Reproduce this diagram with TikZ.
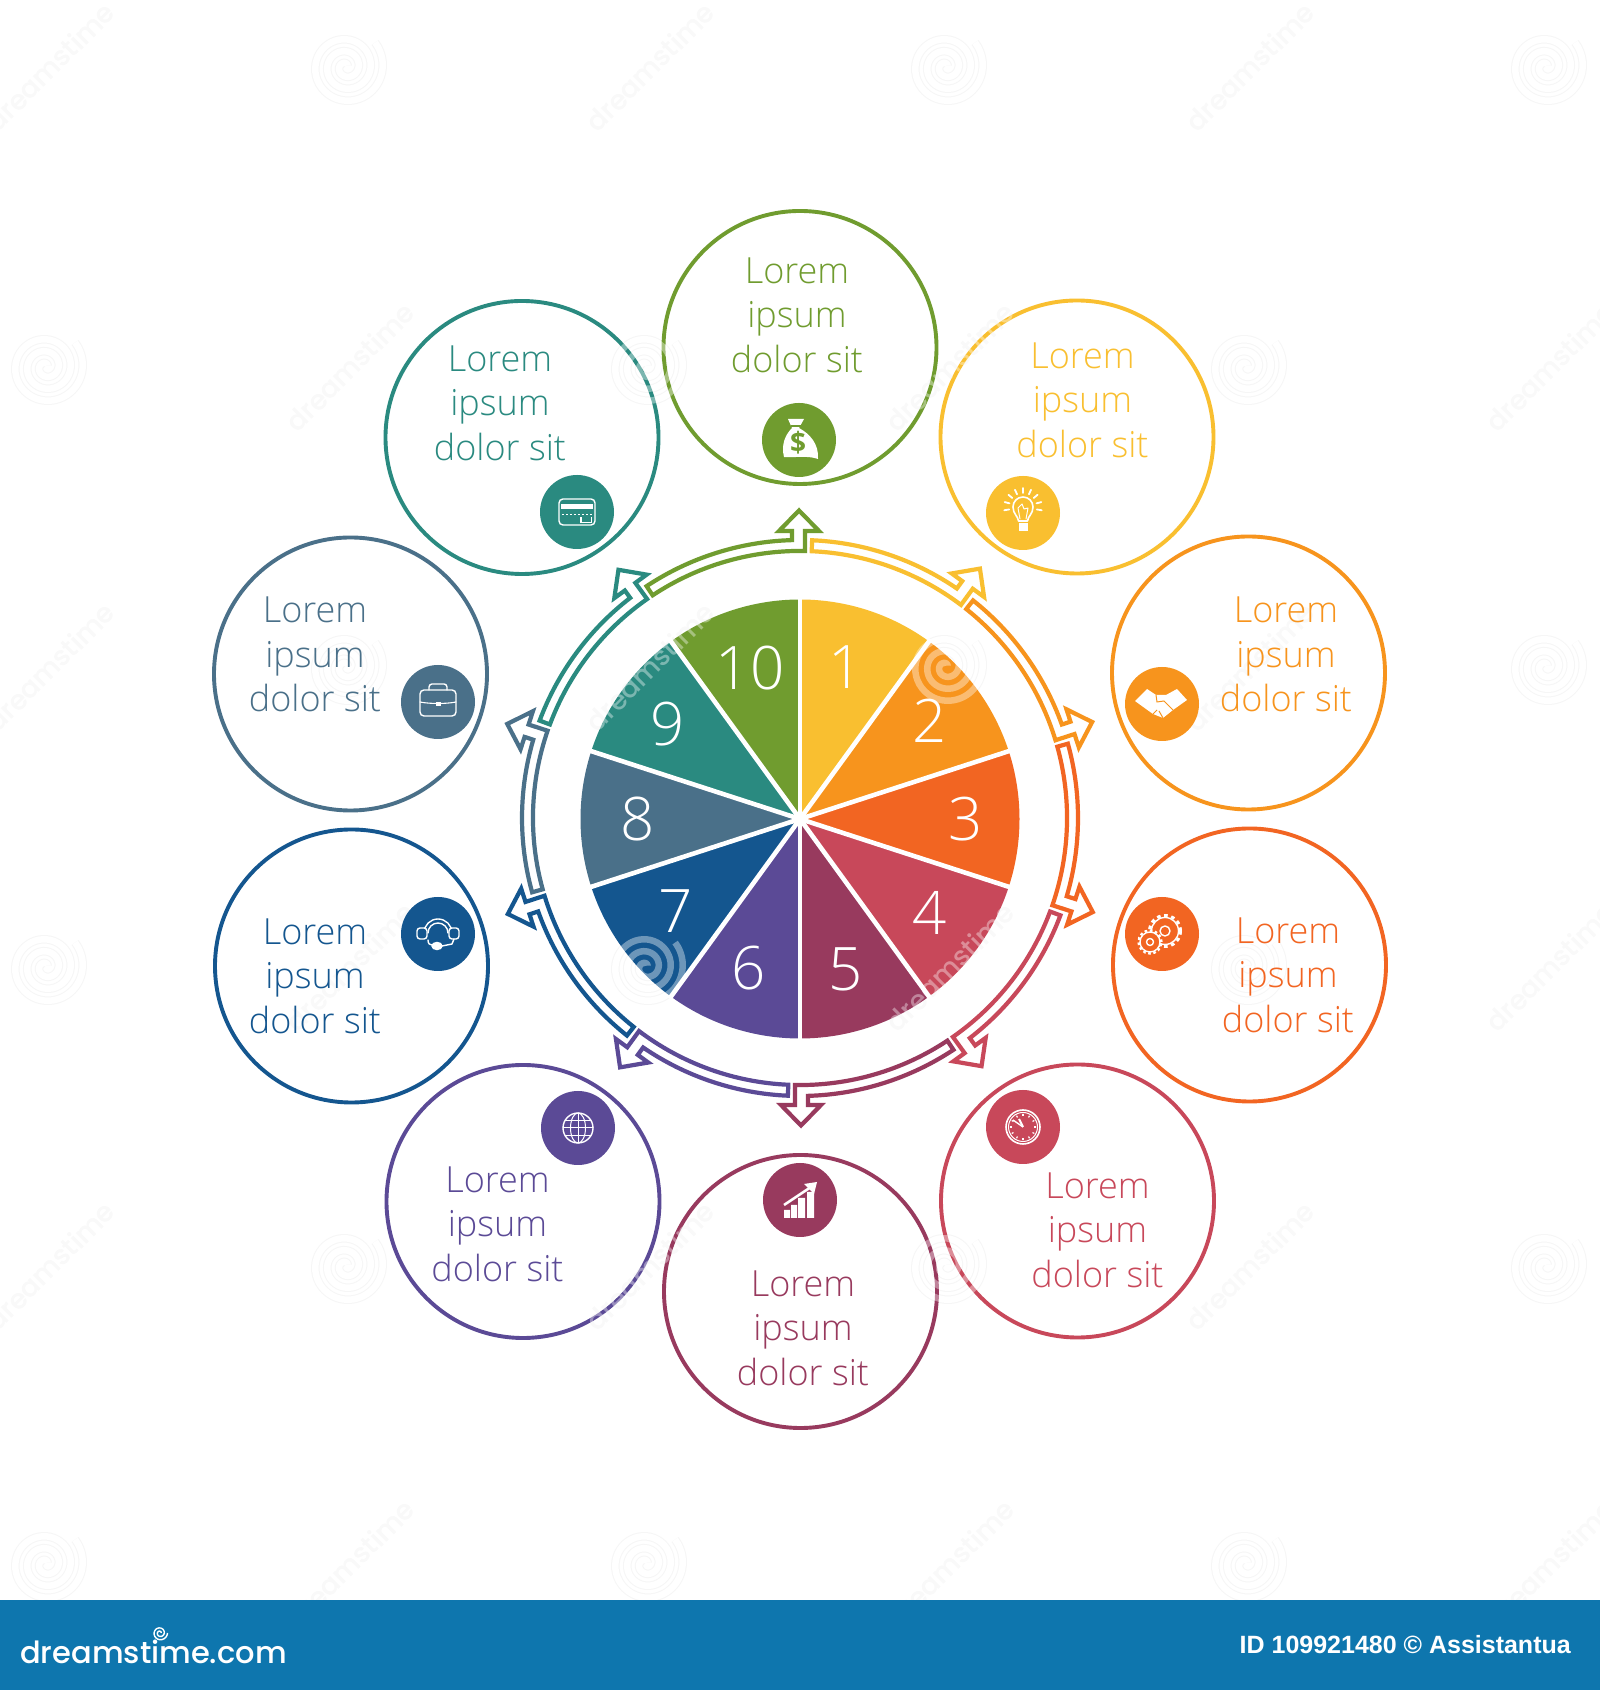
\documentclass[tikz,border=0pt]{standalone}
\usepackage{fontspec}
\setmainfont{Open Sans}[UprightFont=* Light,BoldFont=* Bold]
\newfontfamily\footfont{Liberation Sans}
\newfontfamily\logofont{Poppins}[UprightFont=* Medium]
\usetikzlibrary{calc}
\definecolor{cA}{HTML}{F9BF30}
\definecolor{cB}{HTML}{F7941D}
\definecolor{cC}{HTML}{F26522}
\definecolor{cD}{HTML}{C8485A}
\definecolor{cE}{HTML}{983A5E}
\definecolor{cF}{HTML}{5B4A96}
\definecolor{cG}{HTML}{14568F}
\definecolor{cH}{HTML}{4A7089}
\definecolor{cI}{HTML}{2A8A80}
\definecolor{cJ}{HTML}{709C2F}
\definecolor{footbar}{HTML}{0E76AE}
\definecolor{wmgrey}{HTML}{F6F6F6}
\tikzset{
  x=1pt,y=1pt,
  ringc/.style={circle,draw=#1,line width=3.9pt,minimum size=273pt,inner sep=0pt,outer sep=0pt},
  disc/.style={circle,fill=#1,minimum size=74pt,inner sep=0pt,outer sep=0pt},
  lorem/.style={text=#1,align=center,font=\fontsize{36}{44.5}\selectfont,inner sep=0pt},
  piedigit/.style={text=white,font=\fontsize{60}{60}\selectfont,inner sep=0pt},
  band/.style={draw=#1,fill=white,line width=4.2pt,line join=miter,miter limit=10},
  ic/.style={draw=white,line width=1.4pt,line cap=round,line join=round},
  wmtext/.style={rotate=45,font=\logofont\fontsize{27}{27}\selectfont,inner sep=0pt}
}
\newcommand\wmspiral[2]{plot[domain=0:1080,samples=140,smooth] ({#1+(2+\x/30)*cos(\x+40)},{#2+(2+\x/30)*sin(\x+40)})}
% one arrow band: colour, clock angle of its tip
\newcommand\arrowband[2]{%
  \begin{scope}[shift={(ring)},rotate=-#2]
    \draw[band=#1] (123.5:278) arc[start angle=123.5,end angle=91.65,radius=278]
      -- (-8,287) -- (-21,287) -- (-1,307.5) -- (19,287) -- (5,287) -- (5,267)
      arc[start angle=88.93,end angle=123.5,radius=267] -- cycle;
  \end{scope}}
\begin{document}
\begin{tikzpicture}
\useasboundingbox (0,0) rectangle (1600,1690);
\fill[white] (0,0) rectangle (1600,1690);
% watermark, under everything
\foreach \wy in {1623,1023,424}{\foreach \wx in {346,946,1546}{
  \draw[wmgrey,line width=8.5pt] \wmspiral{\wx}{\wy};
  \draw[white,line width=6.5pt] \wmspiral{\wx}{\wy};
  \node[wmtext,text=wmgrey] at (\wx-296,\wy) {dreamstime};}}
\foreach \wy in {1323,723,126}{\foreach \wx in {46,646,1246}{
  \draw[wmgrey,line width=8.5pt] \wmspiral{\wx}{\wy};
  \draw[white,line width=6.5pt] \wmspiral{\wx}{\wy};
  \node[wmtext,text=wmgrey] at (\wx+304,\wy) {dreamstime};}}
\coordinate (pie) at (800,871);
\coordinate (ring) at (800,872);
% pie
\foreach \k/\col [evaluate=\k as \sa using {90-36*(\k-1)},evaluate=\k as \ea using {90-36*\k}] in {1/cA,2/cB,3/cC,4/cD,5/cE,6/cF,7/cG,8/cH,9/cI,10/cJ}{
  \fill[\col] (pie) -- ($(pie)+(\sa:219.5)$) arc[start angle=\sa,end angle=\ea,radius=219.5] -- cycle;}
\foreach \k in {0,...,9}{\draw[white,line width=4.6pt] (pie) -- ($(pie)+({90-36*\k}:222)$);}
\fill[white] (pie) circle (5);
% arrow ring
\arrowband{cA}{36}
\arrowband{cB}{72}
\arrowband{cC}{108}
\arrowband{cD}{144}
\arrowband{cE}{180}
\arrowband{cF}{216}
\arrowband{cG}{252}
\arrowband{cH}{288}
\arrowband{cI}{324}
\arrowband{cJ}{0}
% outer circles
\node[ringc=cJ] (c10) at (800,1342.5) {};
\node[ringc=cA] (c1) at (1077,1253) {};
\node[ringc=cB] (c2) at (1248.5,1017) {};
\node[ringc=cC] (c3) at (1249.5,725) {};
\node[ringc=cD] (c4) at (1077.5,489) {};
\node[ringc=cE] (c5) at (800.5,398.5) {};
\node[ringc=cF] (c6) at (523,488.5) {};
\node[ringc=cG] (c7) at (351.5,724) {};
\node[ringc=cH] (c8) at (350.5,1016) {};
\node[ringc=cI] (c9) at (522,1252.5) {};
% watermark over the coloured shapes
\begin{scope}[opacity=.38]
\foreach \wy in {1623,1023,424}{\foreach \wx in {346,946,1546}{
  \draw[white,line width=6.5pt] \wmspiral{\wx}{\wy};
  \node[wmtext,text=white] at (\wx-296,\wy) {dreamstime};}}
\foreach \wy in {1323,723,126}{\foreach \wx in {46,646,1246}{
  \draw[white,line width=6.5pt] \wmspiral{\wx}{\wy};
  \node[wmtext,text=white] at (\wx+304,\wy) {dreamstime};}}
\end{scope}
% pie numbers
\node[piedigit] (n1) at (846,1023) {1};
\node[piedigit] (n2) at (930,969) {2};
\node[piedigit] (n3) at (966,871) {3};
\node[piedigit] (n4) at (930,777) {4};
\node[piedigit] (n5) at (846,721) {5};
\node[piedigit] (n6) at (749,722) {6};
\node[piedigit] (n7) at (676,779) {7};
\node[piedigit] (n8) at (638,871) {8};
\node[piedigit] (n9) at (668,966) {9};
\node[piedigit] (n10) at (750,1022) {10};
% texts
\node[lorem=cJ] (t10) at (797,1375) {Lorem\\ipsum\\dolor sit};
\node[lorem=cA] (t1) at (1082.5,1290) {Lorem\\ipsum\\dolor sit};
\node[lorem=cB] (t2) at (1286,1035.5) {Lorem\\ipsum\\dolor sit};
\node[lorem=cC] (t3) at (1288,715) {Lorem\\ipsum\\dolor sit};
\node[lorem=cD] (t4) at (1097.5,460) {Lorem\\ipsum\\dolor sit};
\node[lorem=cE] (t5) at (803,362) {Lorem\\ipsum\\dolor sit};
\node[lorem=cF] (t6) at (497.5,466) {Lorem\\ipsum\\dolor sit};
\node[lorem=cG] (t7) at (315,714) {Lorem\\ipsum\\dolor sit};
\node[lorem=cH] (t8) at (315,1035.5) {Lorem\\ipsum\\dolor sit};
\node[lorem=cI] (t9) at (500,1287) {Lorem\\ipsum\\dolor sit};
% icon discs
\node[disc=cJ] (d10) at (799,1250) {};
\node[disc=cA] (d1) at (1023,1177) {};
\node[disc=cB] (d2) at (1162,986) {};
\node[disc=cC] (d3) at (1162,756) {};
\node[disc=cD] (d4) at (1023,563) {};
\node[disc=cE] (d5) at (800,490) {};
\node[disc=cF] (d6) at (578,562) {};
\node[disc=cG] (d7) at (438,756) {};
\node[disc=cH] (d8) at (438,988) {};
\node[disc=cI] (d9) at (577,1178) {};
% money bag
\begin{scope}[shift={(d10)}]
  \fill[white] (-11,21) -- (5,21) -- (0,12) .. controls (11,6) and (20,-4) .. (19,-19)
    .. controls (8,-15) and (-6,-18) .. (-15,-17) .. controls (-18,-5) and (-14,5) .. (-7,12) -- cycle;
  \draw[cJ,line width=1.2pt] (-8,14) -- (2,14);
  \node[text=cJ,font=\bfseries\fontsize{28}{28}\selectfont,inner sep=0pt] at (-1,-3) {\$};
\end{scope}
% bulb
\begin{scope}[shift={(d1)}]
  \draw[ic,line width=1.6pt] (-4.5,-8) .. controls (-5,-3) and (-10,-1) .. (-10,6) arc[start angle=180,end angle=0,radius=10]
    .. controls (10,-1) and (5,-3) .. (4.5,-8) -- cycle;
  \draw[ic,line width=1pt] (-3,-6) -- (-5,5) -- (-1,9) -- (1,4) -- (5,5) -- (3,-6);
  \fill[white] (-4.5,-10) rectangle (4.5,-18);
  \foreach \a in {-10,15,40,65,90,115,140,165,190}{\draw[ic,line width=1.8pt] ($(0,6)+(\a:14)$) -- ($(0,6)+(\a:19)$);}
\end{scope}
% handshake
\begin{scope}[shift={(d2)}]
  \fill[white] (-27,3) -- (-15,15) -- (-6,9) -- (4,9) -- (15,15) -- (25,4) -- (11,-6) -- (1,-14) -- (-9,-10) -- (-16,-5) -- cycle;
  \draw[cB,line width=1pt] (-6,9) -- (-5,2) -- (2,3) -- (11,-6) (1,-14) -- (-3,-7) (-9,-10) -- (-5,-6);
\end{scope}
% gears
\begin{scope}[shift={(d3)}]
  \draw[white,line width=3pt,dash pattern=on 3.6pt off 3.6pt] (3,3) circle (15.5);
  \draw[ic,fill=cC] (3,3) circle (13.5);
  \draw[ic] (3,3) circle (5);
  \draw[white,line width=2.4pt,dash pattern=on 2.6pt off 2.6pt] (-12,-8) circle (11.5);
  \draw[ic,fill=cC] (-12,-8) circle (10);
  \draw[ic] (-12,-8) circle (3.5);
\end{scope}
% clock
\begin{scope}[shift={(d4)}]
  \draw[ic,line width=1.6pt] (0,0) circle (17);
  \draw[ic,line width=1pt] (0,0) circle (14.5);
  \foreach \a in {0,30,...,330}{\draw[white,line width=1.2pt] (\a:11) -- (\a:13);}
  \draw[white,line width=2pt] (0,0) -- (-4,8);
  \draw[white,line width=1.4pt] (0,0) -- (-10,7);
\end{scope}
% chart
\begin{scope}[shift={(d5)}]
  \fill[white] (-16,-18) rectangle (-10,-10) (-9,-18) rectangle (-3,-5) (-2,-18) rectangle (5,2) (7,-18) rectangle (14,8);
  \draw[white,line width=2.6pt] (-16,-5) -- (11,13);
  \fill[white] (17,18) -- (4,16) -- (14,6) -- cycle;
\end{scope}
% globe
\begin{scope}[shift={(d6)}]
  \draw[ic] (0,0) circle (15);
  \draw[ic,line width=1pt] (0,-15) -- (0,15) (-15,0) -- (15,0) (-13,7.5) -- (13,7.5) (-13,-7.5) -- (13,-7.5);
  \draw[ic,line width=1pt] (0,0) ellipse (7.5 and 15);
\end{scope}
% headset
\begin{scope}[shift={(d7)}]
  \draw[ic] (-14,1) arc[start angle=180,end angle=0,radius=14];
  \draw[ic] (-10,1) arc[start angle=180,end angle=0,radius=10];
  \draw[ic,fill=cG,rounded corners=3pt] (-21,-5) rectangle (-11,6);
  \draw[ic,fill=cG,rounded corners=3pt] (11,-5) rectangle (21,6);
  \draw[ic] (-10,-6) .. controls (-10,-10) and (-8,-11) .. (-6,-11);
  \draw[ic,fill=white] (-1,-12) ellipse (5 and 3.5);
  \draw[ic] (4,-12) -- (14,-10) -- (16,-5);
\end{scope}
% briefcase
\begin{scope}[shift={(d8)}]
  \draw[ic,rounded corners=4pt] (-18,-14) rectangle (18,12);
  \draw[ic,rounded corners=3pt] (-9,12) -- (-9,18) -- (9,18) -- (9,12);
  \draw[ic,line width=1.1pt] (-18,0) .. controls (-8,-2) and (8,-2) .. (18,0);
  \fill[white] (-2.5,-4) rectangle (2.5,0);
\end{scope}
% card
\begin{scope}[shift={(d9)}]
  \draw[ic,rounded corners=4pt] (-18,-13) rectangle (18,13);
  \fill[white] (-16,3) rectangle (16,8);
  \draw[white,line width=1.6pt,dash pattern=on 2.4pt off 1.6pt] (-15,-2.5) -- (16,-2.5);
  \fill[white] (3,-11) rectangle (15,-5);
  \fill[cI] (5,-10) rectangle (14,-5.5);
\end{scope}
% footer
\fill[footbar] (0,0) rectangle (1600,90);
\node[text=white,font=\logofont\fontsize{30.5}{30.5}\selectfont,anchor=base west,inner sep=0pt] (logo) at (20,27) {dreamstime.com};
\draw[white,line width=1.4pt] plot[domain=0:720,samples=40,smooth] ({160+(1+\x/110)*cos(\x)},{57+(1+\x/110)*sin(\x)});
\node[text=white,font=\footfont\bfseries\fontsize{25}{25}\selectfont,anchor=east,inner sep=0pt] (credit) at (1571,45) {ID 109921480 © Assistantua};
\end{tikzpicture}
\end{document}
